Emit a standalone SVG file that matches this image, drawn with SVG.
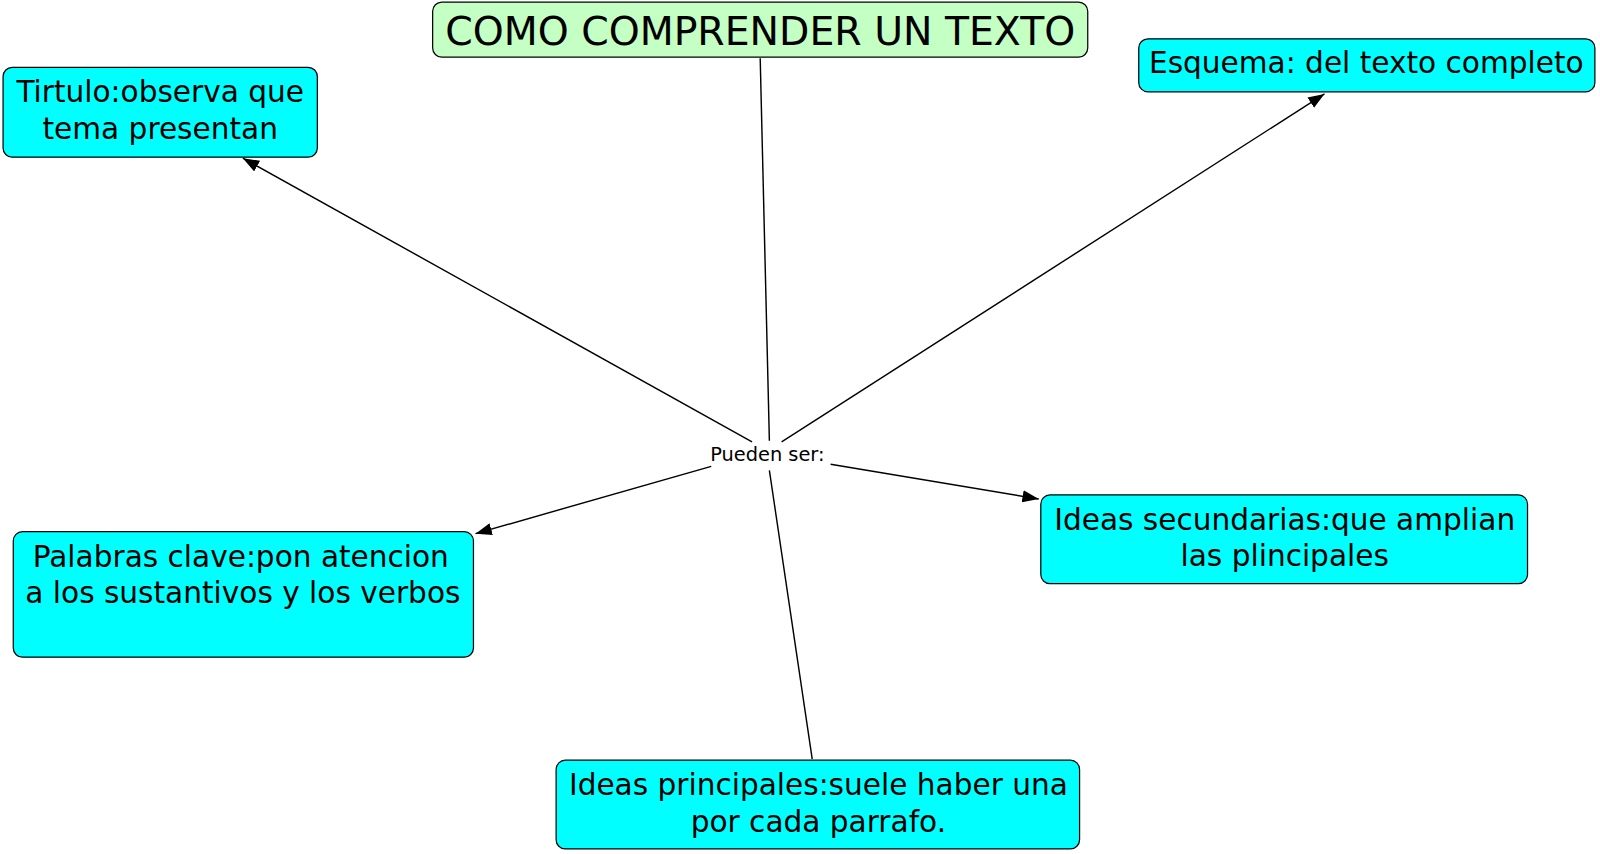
<svg xmlns="http://www.w3.org/2000/svg" width="1600" height="854" viewBox="0 0 1600 854">
<defs>
<marker id="arr" viewBox="0 0 16 12" refX="16" refY="6" markerWidth="16" markerHeight="12" markerUnits="userSpaceOnUse" orient="auto">
<path d="M0,0 L16,6 L0,12 Z" fill="#000"/>
</marker>
</defs>
<style>
.node rect{stroke:#000;stroke-width:1.2}
.c rect{fill:#00ffff}
.t{font-family:"DejaVu Sans","Liberation Sans",sans-serif;font-size:29px;fill:#000;text-anchor:middle}
.lbl{font-family:"DejaVu Sans","Liberation Sans",sans-serif;font-size:19px;fill:#000;text-anchor:middle}
.conn line{stroke:#000;stroke-width:1.4}
</style>
<rect width="1600" height="854" fill="#fff"/>
<g transform="scale(1.0204)">
<g id="connectors" class="conn">
<line x1="745" y1="57" x2="754" y2="432"/>
<line x1="737" y1="433" x2="238" y2="155" marker-end="url(#arr)"/>
<line x1="766" y1="433" x2="1298" y2="92" marker-end="url(#arr)"/>
<line x1="697" y1="457" x2="466" y2="523" marker-end="url(#arr)"/>
<line x1="814" y1="455" x2="1018" y2="489" marker-end="url(#arr)"/>
<line x1="754" y1="461" x2="796" y2="744"/>
</g>
<g id="label-pueden">
<text class="lbl" x="752" y="452">Pueden ser:</text>
</g>
<g id="title" class="node">
<rect x="424" y="2" width="642" height="54" rx="9" fill="#c4ffc4"/>
<text class="t" x="745" y="44" style="font-size:38.6px">COMO COMPRENDER UN TEXTO</text>
</g>
<g id="tirtulo" class="node c">
<rect x="3" y="66" width="308" height="88" rx="9"/>
<text class="t" x="157" y="100">Tirtulo:observa que</text>
<text class="t" x="157" y="136">tema presentan</text>
</g>
<g id="esquema" class="node c">
<rect x="1116" y="38" width="447" height="52" rx="9"/>
<text class="t" x="1339" y="72">Esquema: del texto completo</text>
</g>
<g id="palabras" class="node c">
<rect x="13" y="521" width="451" height="123" rx="9"/>
<text class="t" x="236" y="556">Palabras clave:pon atencion </text>
<text class="t" x="238" y="591">a los sustantivos y los verbos</text>
</g>
<g id="ideas-secundarias" class="node c">
<rect x="1020" y="485" width="477" height="87" rx="9"/>
<text class="t" x="1259" y="519">Ideas secundarias:que amplian</text>
<text class="t" x="1259" y="555">las plincipales</text>
</g>
<g id="ideas-principales" class="node c">
<rect x="545" y="745" width="513" height="87" rx="9"/>
<text class="t" x="802" y="779">Ideas principales:suele haber una</text>
<text class="t" x="802" y="815">por cada parrafo.</text>
</g>
</g>
</svg>
